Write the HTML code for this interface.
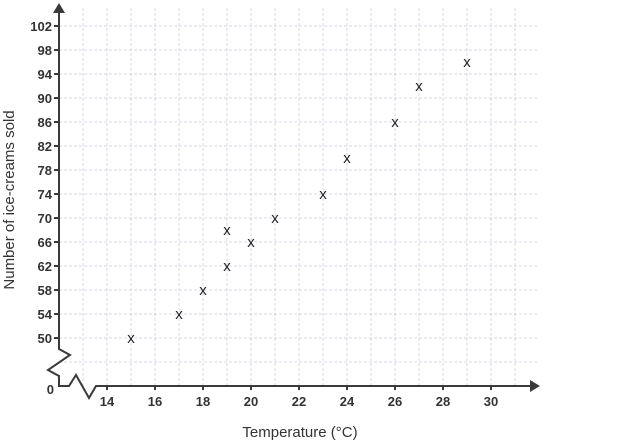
<!DOCTYPE html><html><head><style>body{margin:0;background:#fff}svg{display:block}text{font-family:"Liberation Sans",Arial,sans-serif}</style></head><body>
<svg width="624" height="441" viewBox="0 0 624 441">
<g stroke="#d8d4e6" stroke-width="1" stroke-dasharray="3,2" fill="none">
<path d="M83 8V386M107 8V386M131 8V386M155 8V386M179 8V386M203 8V386M227 8V386M251 8V386M275 8V386M299 8V386M323 8V386M347 8V386M371 8V386M395 8V386M419 8V386M443 8V386M467 8V386M491 8V386M515 8V386"/>
<path d="M59 26H538M59 50H538M59 74H538M59 98H538M59 122H538M59 146H538M59 170H538M59 194H538M59 218H538M59 242H538M59 266H538M59 290H538M59 314H538M59 338H538M59 362H538"/>
</g>
<g stroke="#3a3a3a" stroke-width="2" fill="none" stroke-linejoin="miter">
<path d="M59 10V349L70 355L48 370L59 376V386H69L76 375L89 398L96 386H532"/>
<path d="M54 26h5M54 50h5M54 74h5M54 98h5M54 122h5M54 146h5M54 170h5M54 194h5M54 218h5M54 242h5M54 266h5M54 290h5M54 314h5M54 338h5"/>
<path d="M107 386v4M155 386v4M203 386v4M251 386v4M299 386v4M347 386v4M395 386v4M443 386v4M491 386v4"/>
</g>
<path d="M59 3L53 13H65Z" fill="#3a3a3a"/>
<path d="M540 386L530 380V392Z" fill="#3a3a3a"/>
<g font-size="13" font-weight="bold" fill="#333" text-anchor="end">
<text x="52" y="31">102</text><text x="52" y="55">98</text><text x="52" y="79">94</text><text x="52" y="103">90</text><text x="52" y="127">86</text><text x="52" y="151">82</text><text x="52" y="175">78</text><text x="52" y="199">74</text><text x="52" y="223">70</text><text x="52" y="247">66</text><text x="52" y="271">62</text><text x="52" y="295">58</text><text x="52" y="319">54</text><text x="52" y="343">50</text><text x="54" y="394">0</text>
</g>
<g font-size="13" font-weight="bold" fill="#333" text-anchor="middle">
<text x="107" y="406">14</text><text x="155" y="406">16</text><text x="203" y="406">18</text><text x="251" y="406">20</text><text x="299" y="406">22</text><text x="347" y="406">24</text><text x="395" y="406">26</text><text x="443" y="406">28</text><text x="491" y="406">30</text>
</g>
<g font-size="15" fill="#222" text-anchor="middle">
<text x="131" y="343">x</text><text x="179" y="319">x</text><text x="203" y="295">x</text><text x="227" y="271">x</text><text x="227" y="235">x</text><text x="251" y="247">x</text><text x="275" y="223">x</text><text x="323" y="199">x</text><text x="347" y="163">x</text><text x="395" y="127">x</text><text x="419" y="91">x</text><text x="467" y="67">x</text>
</g>
<text x="300" y="437" font-size="15" fill="#333" text-anchor="middle">Temperature (°C)</text>
<text transform="translate(14,200) rotate(-90)" font-size="15" fill="#333" text-anchor="middle">Number of ice-creams sold</text>
</svg></body></html>
